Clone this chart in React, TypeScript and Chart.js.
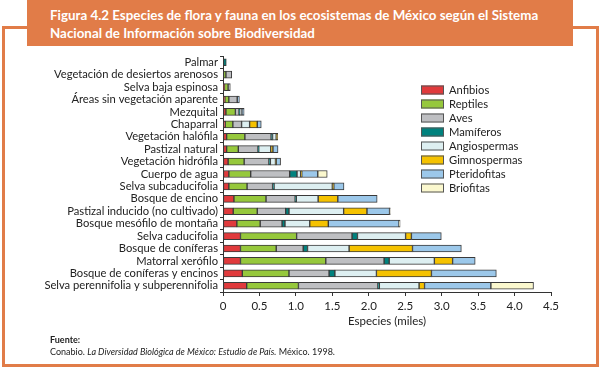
import React, { useEffect, useRef } from "react";
import { Chart, registerables } from "chart.js";

Chart.register(...registerables);

const categories = [
  "Palmar",
  "Vegetación de desiertos arenosos",
  "Selva baja espinosa",
  "Áreas sin vegetación aparente",
  "Mezquital",
  "Chaparral",
  "Vegetación halófila",
  "Pastizal natural",
  "Vegetación hidrófila",
  "Cuerpo de agua",
  "Selva subcaducifolia",
  "Bosque de encino",
  "Pastizal inducido (no cultivado)",
  "Bosque mesófilo de montaña",
  "Selva caducifolia",
  "Bosque de coníferas",
  "Matorral xerófilo",
  "Bosque de coníferas y encinos",
  "Selva perennifolia y subperennifolia",
];

// values in thousands of species
const anfibios = [0, 0, 0.02, 0.025, 0.04, 0.03, 0.05, 0.05, 0.07, 0.08, 0.08, 0.15, 0.14, 0.19, 0.24, 0.24, 0.24, 0.265, 0.325];
const reptiles = [0, 0.04, 0.05, 0.055, 0.13, 0.105, 0.25, 0.16, 0.22, 0.3, 0.25, 0.44, 0.33, 0.32, 0.77, 0.49, 1.17, 0.64, 0.71];
const aves = [0, 0.08, 0.03, 0.115, 0.05, 0.12, 0.36, 0.27, 0.34, 0.535, 0.35, 0.4, 0.39, 0.3, 0.76, 0.37, 0.8, 0.55, 1.09];
const mamiferos = [0.045, 0, 0, 0, 0.01, 0, 0.02, 0.01, 0.02, 0.1, 0.02, 0.015, 0.045, 0.04, 0.075, 0.06, 0.07, 0.08, 0.02];
const angiospermas = [0, 0, 0, 0, 0.03, 0.11, 0.05, 0.165, 0.07, 0.05, 0.8, 0.3, 0.75, 0.34, 0.66, 0.57, 0.62, 0.57, 0.545];
const gimnospermas = [0, 0, 0, 0, 0, 0.105, 0.02, 0.03, 0.01, 0.015, 0.02, 0.27, 0.32, 0.255, 0.08, 0.87, 0.25, 0.755, 0.075];
const pteridofitas = [0, 0, 0, 0.03, 0.03, 0.055, 0, 0.07, 0.06, 0.22, 0.14, 0.54, 0.31, 0.97, 0.41, 0.67, 0.31, 0.89, 0.91];
const briofitas = [0, 0, 0, 0, 0, 0, 0, 0, 0, 0.13, 0, 0, 0.01, 0.015, 0, 0, 0, 0, 0.585];

const seriesNames = ["Anfibios", "Reptiles", "Aves", "Mamíferos", "Angiospermas", "Gimnospermas", "Pteridofitas", "Briofitas"];
const seriesColors = ["#E03A3C", "#96C83C", "#BEBFC2", "#00827E", "#DDEFF1", "#F5C200", "#9CC8EA", "#FBF8CE"];
const seriesValues = [anfibios, reptiles, aves, mamiferos, angiospermas, gimnospermas, pteridofitas, briofitas];

const xTickLabels = ["0", "0.5", "1.0", "1.5", "2.0", "2.5", "3.0", "3.5", "4.0", "4.5"];

const ORANGE = "#E17C48";
const FONT = "Lato, 'Open Sans', sans-serif";
const TEXT = "#222";

const legendPlugin = {
  id: "boxLegend",
  afterDraw(chart: any) {
    const ctx = chart.ctx;
    ctx.save();
    chart.data.datasets.forEach((ds: any, i: number) => {
      const y = 90 + i * 14;
      ctx.fillStyle = ds.backgroundColor;
      ctx.fillRect(421, y - 4.5, 23, 9);
      ctx.strokeStyle = "#555";
      ctx.lineWidth = 1;
      ctx.strokeRect(421.5, y - 4, 22, 8);
      ctx.fillStyle = TEXT;
      ctx.font = "11.2px " + FONT;
      ctx.textBaseline = "middle";
      ctx.textAlign = "left";
      ctx.fillText(ds.label, 449, y + 0.5);
    });
    ctx.restore();
  },
};

function BarChart() {
  const ref = useRef<HTMLCanvasElement | null>(null);
  useEffect(() => {
    if (!ref.current) return;
    const chart = new Chart(ref.current, {
      type: "bar",
      data: {
        labels: categories,
        datasets: seriesNames.map((name, i) => ({
          label: name,
          data: seriesValues[i],
          backgroundColor: seriesColors[i],
          borderColor: "#3a3a3a",
          borderWidth: 1,
          borderSkipped: false,
          barThickness: 7,
        })),
      },
      options: {
        indexAxis: "y",
        animation: false,
        responsive: false,
        maintainAspectRatio: false,
        layout: { padding: { left: 0, top: 56, right: 49, bottom: 40 } },
        plugins: { legend: { display: false }, tooltip: { enabled: false } },
        scales: {
          x: {
            stacked: true,
            min: 0,
            max: 4.5,
            afterFit: (s: any) => { s.height = 36; },
            ticks: {
              stepSize: 0.5,
              color: TEXT,
              font: { family: FONT, size: 11.5 },
              padding: 3,
              callback: (_v: any, i: number) => xTickLabels[i],
            },
            grid: { drawOnChartArea: false, tickLength: 4, color: "#333" },
            border: { color: "#333", width: 1 },
            title: {
              display: true,
              text: "Especies (miles)",
              color: TEXT,
              font: { family: FONT, size: 11.5 },
              padding: { top: 3, bottom: 0 },
            },
          },
          y: {
            stacked: true,
            afterFit: (s: any) => { s.width = 223; },
            ticks: {
              color: TEXT,
              font: { family: FONT, size: 11.2 },
              padding: 2,
              autoSkip: false,
            },
            grid: { drawOnChartArea: false, tickLength: 3, color: "#333", offset: true },
            border: { color: "#333", width: 1 },
          },
        },
      },
      plugins: [legendPlugin],
    });
    return () => chart.destroy();
  }, []);
  return (
    <canvas
      ref={ref}
      width={600}
      height={368}
      style={{ position: "absolute", left: 0, top: 0, width: 600, height: 368 }}
    />
  );
}

export default function App() {
  return (
    <div
      style={{
        position: "absolute",
        left: 0,
        top: 0,
        width: 600,
        height: 368,
        background: "#fff",
        overflow: "hidden",
        fontFamily: FONT,
      }}
    >
      <div
        style={{
          position: "absolute",
          left: 2,
          top: 26,
          width: 597,
          height: 341,
          border: `3px solid ${ORANGE}`,
          boxSizing: "border-box",
        }}
      />
      <div
        style={{
          position: "absolute",
          left: 27,
          top: 0,
          width: 546,
          height: 46,
          background: ORANGE,
          color: "#fff",
          fontWeight: 700,
          fontSize: 13.35,
          lineHeight: "18px",
          paddingLeft: 23,
          paddingTop: 6,
          boxSizing: "border-box",
          whiteSpace: "nowrap",
        }}
      >
        <div>Figura 4.2 Especies de flora y fauna en los ecosistemas de México según el Sistema</div>
        <div>Nacional de Información sobre Biodiversidad</div>
      </div>
      <BarChart />
      <div
        style={{
          position: "absolute",
          left: 50,
          top: 334,
          fontSize: 9,
          color: TEXT,
          lineHeight: "12px",
          whiteSpace: "nowrap",
        }}
      >
        <div style={{ fontWeight: 700 }}>Fuente:</div>
        <div>
          Conabio. <i>La Diversidad Biológica de México: Estudio de País.</i> México. 1998.
        </div>
      </div>
    </div>
  );
}
